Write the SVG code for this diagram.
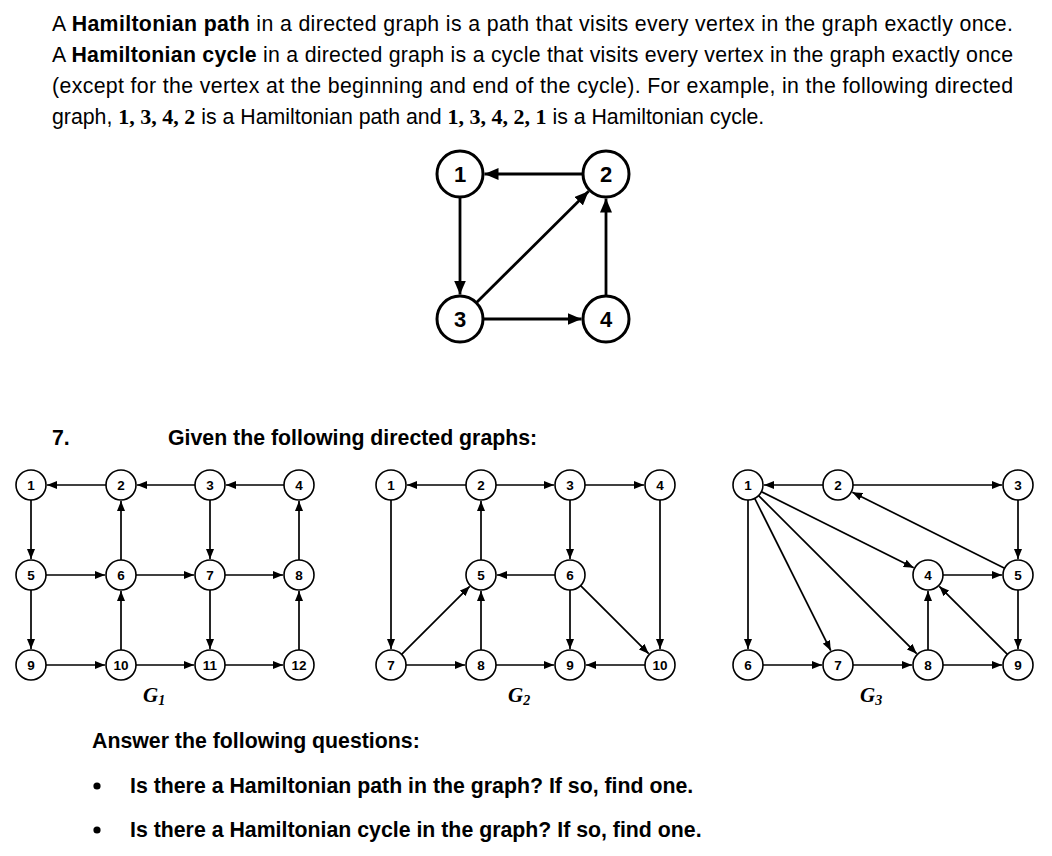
<svg xmlns="http://www.w3.org/2000/svg" width="1052" height="856" viewBox="0 0 1052 856">
<defs>
<style>
.t{font-family:"Liberation Sans",Arial,sans-serif;font-size:21.3px;fill:#000}
.b{font-weight:bold}
.m{font-family:"Liberation Serif","Times New Roman",serif;font-weight:bold;font-size:22px}
.gl{font-family:"Liberation Serif","Times New Roman",serif;font-weight:bold;font-style:italic;font-size:21px}
.n circle{fill:#fff;stroke:#000;stroke-width:1.6}
.n text{font-family:"Liberation Sans",Arial,sans-serif;font-weight:bold;font-size:13.5px;text-anchor:middle}
.nb circle{fill:#fff;stroke:#000;stroke-width:3}
.nb text{font-family:"Liberation Sans",Arial,sans-serif;font-weight:bold;font-size:22px;text-anchor:middle}
.e line{stroke:#000;stroke-width:1.7;fill:none;marker-end:url(#as)}
.eb line{stroke:#000;stroke-width:2.8;fill:none;marker-end:url(#ab)}
</style>
<marker id="as" markerUnits="userSpaceOnUse" markerWidth="10" markerHeight="8" refX="10" refY="4" orient="auto"><path d="M0,0 L10,4 L0,8 z" fill="#000"/></marker>
<marker id="ab" markerUnits="userSpaceOnUse" markerWidth="14" markerHeight="12" refX="14" refY="6" orient="auto"><path d="M0,0 L14,6 L0,12 z" fill="#000"/></marker>
</defs>
<rect width="1052" height="856" fill="#fff"/>

<g id="intro">
<text class="t" x="52" y="31" textLength="961" lengthAdjust="spacing">A <tspan class="b">Hamiltonian path</tspan> in a directed graph is a path that visits every vertex in the graph exactly once.</text>
<text class="t" x="52" y="62" textLength="961" lengthAdjust="spacing">A <tspan class="b">Hamiltonian cycle</tspan> in a directed graph is a cycle that visits every vertex in the graph exactly once</text>
<text class="t" x="52" y="93" textLength="961" lengthAdjust="spacing">(except for the vertex at the beginning and end of the cycle). For example, in the following directed</text>
<text class="t" x="52" y="124">graph, <tspan class="m">1, 3, 4, 2</tspan> is a Hamiltonian path and <tspan class="m">1, 3, 4, 2, 1</tspan> is a Hamiltonian cycle.</text>
</g>

<g id="example-edges" class="eb">
<line x1="583" y1="174" x2="484.5" y2="174"/>
<line x1="460" y1="197" x2="460" y2="294.5"/>
<line x1="483" y1="319" x2="581.5" y2="319"/>
<line x1="606" y1="296" x2="606" y2="198.5"/>
<line x1="476.3" y1="302.8" x2="588.6" y2="191.3"/>
</g>
<g id="ex1" class="nb"><circle cx="460" cy="174" r="23"/><text x="460" y="182">1</text></g>
<g id="ex2" class="nb"><circle cx="606" cy="174" r="23"/><text x="606" y="182">2</text></g>
<g id="ex3" class="nb"><circle cx="460" cy="319" r="23"/><text x="460" y="327">3</text></g>
<g id="ex4" class="nb"><circle cx="606" cy="319" r="23"/><text x="606" y="327">4</text></g>

<g id="question">
<text class="t b" x="52" y="445">7.</text>
<text class="t b" x="168" y="445">Given the following directed graphs:</text>
</g>

<g id="g1-edges" class="e">
<line x1="106" y1="485" x2="47" y2="485"/>
<line x1="195" y1="485" x2="137" y2="485"/>
<line x1="284" y1="485" x2="226" y2="485"/>
<line x1="31" y1="500" x2="31" y2="559"/>
<line x1="121" y1="560" x2="121" y2="501"/>
<line x1="210" y1="500" x2="210" y2="559"/>
<line x1="299" y1="560" x2="299" y2="501"/>
<line x1="46" y1="575" x2="105" y2="575"/>
<line x1="136" y1="575" x2="194" y2="575"/>
<line x1="225" y1="575" x2="283" y2="575"/>
<line x1="31" y1="590" x2="31" y2="649"/>
<line x1="121" y1="650" x2="121" y2="591"/>
<line x1="210" y1="590" x2="210" y2="649"/>
<line x1="299" y1="650" x2="299" y2="591"/>
<line x1="46" y1="665" x2="105" y2="665"/>
<line x1="136" y1="665" x2="194" y2="665"/>
<line x1="225" y1="665" x2="283" y2="665"/>
</g>
<g id="g1n1" class="n"><circle cx="31" cy="485" r="15"/><text x="31" y="490">1</text></g>
<g id="g1n2" class="n"><circle cx="121" cy="485" r="15"/><text x="121" y="490">2</text></g>
<g id="g1n3" class="n"><circle cx="210" cy="485" r="15"/><text x="210" y="490">3</text></g>
<g id="g1n4" class="n"><circle cx="299" cy="485" r="15"/><text x="299" y="490">4</text></g>
<g id="g1n5" class="n"><circle cx="31" cy="575" r="15"/><text x="31" y="580">5</text></g>
<g id="g1n6" class="n"><circle cx="121" cy="575" r="15"/><text x="121" y="580">6</text></g>
<g id="g1n7" class="n"><circle cx="210" cy="575" r="15"/><text x="210" y="580">7</text></g>
<g id="g1n8" class="n"><circle cx="299" cy="575" r="15"/><text x="299" y="580">8</text></g>
<g id="g1n9" class="n"><circle cx="31" cy="665" r="15"/><text x="31" y="670">9</text></g>
<g id="g1n10" class="n"><circle cx="121" cy="665" r="15"/><text x="121" y="670">10</text></g>
<g id="g1n11" class="n"><circle cx="210" cy="665" r="15"/><text x="210" y="670">11</text></g>
<g id="g1n12" class="n"><circle cx="299" cy="665" r="15"/><text x="299" y="670">12</text></g>
<text class="gl" x="143" y="702">G<tspan font-size="14" dy="3">1</tspan></text>

<g id="g2-edges" class="e">
<line x1="466" y1="485" x2="407" y2="485"/>
<line x1="496" y1="485" x2="554" y2="485"/>
<line x1="585" y1="485" x2="644" y2="485"/>
<line x1="391" y1="500" x2="391" y2="649"/>
<line x1="481" y1="560" x2="481" y2="501"/>
<line x1="570" y1="500" x2="570" y2="559"/>
<line x1="660" y1="500" x2="660" y2="649"/>
<line x1="555" y1="575" x2="497" y2="575"/>
<line x1="401.6" y1="654.4" x2="469.7" y2="586.3"/>
<line x1="481" y1="650" x2="481" y2="591"/>
<line x1="570" y1="590" x2="570" y2="649"/>
<line x1="580.6" y1="585.6" x2="648.7" y2="653.7"/>
<line x1="406" y1="665" x2="465" y2="665"/>
<line x1="496" y1="665" x2="554" y2="665"/>
<line x1="645" y1="665" x2="586" y2="665"/>
</g>
<g id="g2n1" class="n"><circle cx="391" cy="485" r="15"/><text x="391" y="490">1</text></g>
<g id="g2n2" class="n"><circle cx="481" cy="485" r="15"/><text x="481" y="490">2</text></g>
<g id="g2n3" class="n"><circle cx="570" cy="485" r="15"/><text x="570" y="490">3</text></g>
<g id="g2n4" class="n"><circle cx="660" cy="485" r="15"/><text x="660" y="490">4</text></g>
<g id="g2n5" class="n"><circle cx="481" cy="575" r="15"/><text x="481" y="580">5</text></g>
<g id="g2n6" class="n"><circle cx="570" cy="575" r="15"/><text x="570" y="580">6</text></g>
<g id="g2n7" class="n"><circle cx="391" cy="665" r="15"/><text x="391" y="670">7</text></g>
<g id="g2n8" class="n"><circle cx="481" cy="665" r="15"/><text x="481" y="670">8</text></g>
<g id="g2n9" class="n"><circle cx="570" cy="665" r="15"/><text x="570" y="670">9</text></g>
<g id="g2n10" class="n"><circle cx="660" cy="665" r="15"/><text x="660" y="670">10</text></g>
<text class="gl" x="508" y="702">G<tspan font-size="14" dy="3">2</tspan></text>

<g id="g3-edges" class="e">
<line x1="823" y1="485" x2="764" y2="485"/>
<line x1="853" y1="485" x2="1002" y2="485"/>
<line x1="1018" y1="500" x2="1018" y2="559"/>
<line x1="1004.6" y1="568.3" x2="852.3" y2="492.2"/>
<line x1="761.4" y1="491.7" x2="913.7" y2="567.8"/>
<line x1="754.7" y1="498.4" x2="830.8" y2="650.7"/>
<line x1="758.6" y1="495.6" x2="916.7" y2="653.7"/>
<line x1="748" y1="500" x2="748" y2="649"/>
<line x1="943" y1="575" x2="1002" y2="575"/>
<line x1="1018" y1="590" x2="1018" y2="649"/>
<line x1="1007.4" y1="654.4" x2="939.3" y2="586.3"/>
<line x1="928" y1="650" x2="928" y2="591"/>
<line x1="763" y1="665" x2="822" y2="665"/>
<line x1="853" y1="665" x2="912" y2="665"/>
<line x1="943" y1="665" x2="1002" y2="665"/>
</g>
<g id="g3n1" class="n"><circle cx="748" cy="485" r="15"/><text x="748" y="490">1</text></g>
<g id="g3n2" class="n"><circle cx="838" cy="485" r="15"/><text x="838" y="490">2</text></g>
<g id="g3n3" class="n"><circle cx="1018" cy="485" r="15"/><text x="1018" y="490">3</text></g>
<g id="g3n4" class="n"><circle cx="928" cy="575" r="15"/><text x="928" y="580">4</text></g>
<g id="g3n5" class="n"><circle cx="1018" cy="575" r="15"/><text x="1018" y="580">5</text></g>
<g id="g3n6" class="n"><circle cx="748" cy="665" r="15"/><text x="748" y="670">6</text></g>
<g id="g3n7" class="n"><circle cx="838" cy="665" r="15"/><text x="838" y="670">7</text></g>
<g id="g3n8" class="n"><circle cx="928" cy="665" r="15"/><text x="928" y="670">8</text></g>
<g id="g3n9" class="n"><circle cx="1018" cy="665" r="15"/><text x="1018" y="670">9</text></g>
<text class="gl" x="860" y="702">G<tspan font-size="14" dy="3">3</tspan></text>

<g id="answers">
<text class="t b" x="92" y="748">Answer the following questions:</text>
<circle cx="97" cy="786" r="3.6" fill="#000"/>
<text class="t b" x="130" y="793">Is there a Hamiltonian path in the graph? If so, find one.</text>
<circle cx="97" cy="830" r="3.6" fill="#000"/>
<text class="t b" x="130" y="837">Is there a Hamiltonian cycle in the graph? If so, find one.</text>
</g>
</svg>
